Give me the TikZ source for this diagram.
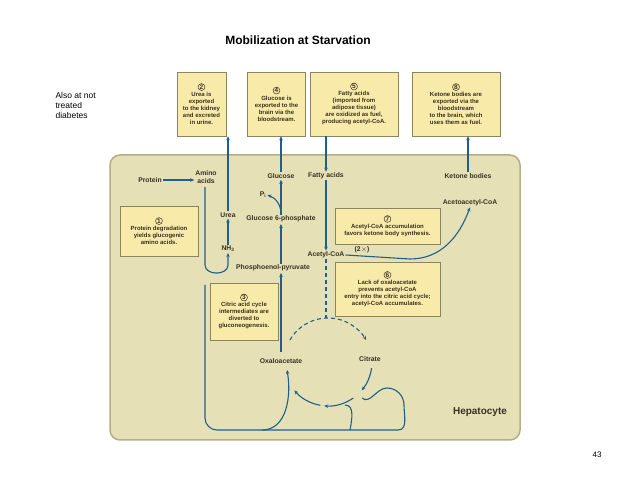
\documentclass[tikz,border=0pt]{standalone}
\usepackage{fontspec}
\setmainfont{Liberation Sans}
\usetikzlibrary{arrows.meta}
\definecolor{flow}{HTML}{1F5F8B}
\definecolor{cellf}{HTML}{E6E0B6}
\definecolor{celld}{HTML}{B5AE85}
\definecolor{boxf}{HTML}{F8EBAA}
\definecolor{boxd}{HTML}{8C8460}
\definecolor{lab}{HTML}{3A3020}
\tikzset{
 lbl/.style={font=\bfseries\fontsize{6.8}{7.6}\selectfont, text=lab, inner sep=1pt, align=center},
 note/.style={draw=boxd, fill=boxf, line width=0.6pt, font=\bfseries\fontsize{6}{7}\selectfont, text=lab, align=center, inner sep=1.5pt},
 fl/.style={draw=flow, line width=1.1pt, -{Stealth[length=4pt,width=3.5pt]}},
 fln/.style={draw=flow, line width=1.1pt},
 num/.style={draw=lab, fill=none, circle, inner sep=0.4pt, line width=0.5pt, minimum width=0pt, minimum height=0pt}
}
\newcommand{\cn}[1]{\tikz[baseline=-2.5pt]\node[num,font=\bfseries\fontsize{6.5}{6.5}\selectfont]{#1};}
\begin{document}
\begin{tikzpicture}[x=1pt,y=-1pt]
\useasboundingbox[fill=white] (0,0) rectangle (638,478);
\node[font=\bfseries\fontsize{12}{14}\selectfont] (title) at (298,40) {Mobilization at Starvation};
\node[font=\fontsize{8.5}{10}\selectfont, align=left, anchor=north west] (also) at (52,89) {Also at not\\treated\\diabetes};
\node[font=\fontsize{8}{10}\selectfont] (pg) at (597,455) {43};
% top boxes
\node[note, minimum width=49pt, minimum height=64pt] (b2) at (201.5,104) {\cn{2}\\Urea is\\exported\\to the kidney\\and excreted\\in urine.};
\node[note, minimum width=58pt, minimum height=64pt] (b4) at (276.5,104) {\cn{4}\\Glucose is\\exported to the\\brain via the\\bloodstream.};
\node[note, minimum width=88pt, minimum height=64pt] (b5) at (354,104) {\cn{5}\\Fatty acids\\(imported from\\adipose tissue)\\are oxidized as fuel,\\producing acetyl-CoA.};
\node[note, minimum width=88pt, minimum height=64pt] (b8) at (456,104) {\cn{8}\\Ketone bodies are\\exported via the\\bloodstream\\to the brain, which\\uses them as fuel.};
% cell
\draw[draw=celld, fill=cellf, line width=1.5pt, rounded corners=10pt] (110,155) rectangle (520,440);
\node[font=\bfseries\fontsize{10}{12}\selectfont, text=lab] (hep) at (480,412) {Hepatocyte};
% boxes inside
\node[note, minimum width=78pt, minimum height=50pt] (b1) at (159,231) {\cn{1}\\Protein degradation\\yields glucogenic\\amino acids.};
\node[note, minimum width=105pt, minimum height=36pt] (b7) at (387.5,226) {\cn{7}\\Acetyl-CoA accumulation\\favors ketone body synthesis.};
\node[note, minimum width=105pt, minimum height=54pt] (b6) at (387.5,289) {\cn{6}\\Lack of oxaloacetate\\prevents acetyl-CoA\\entry into the citric acid cycle;\\acetyl-CoA accumulates.};
\node[note, minimum width=68pt, minimum height=57pt] (b3) at (244,311.5) {\cn{3}\\Citric acid cycle\\intermediates are\\diverted to\\gluconeogenesis.};
% labels
\node[lbl] (prot) at (150,180) {Protein};
\node[lbl] (aa) at (206,177) {Amino\\acids};
\node[lbl] (glc) at (281,176) {Glucose};
\node[lbl] (fa) at (326,176) {Fatty acids};
\node[lbl] (kb) at (468,176) {Ketone bodies};
\node[lbl] (aac) at (470,203) {Acetoacetyl-CoA};
\node[lbl] (pi) at (263,195) {P$_\mathbf{i}$};
\node[lbl] (urea) at (228,215) {Urea};
\node[lbl] (g6p) at (281,219) {Glucose 6-phosphate};
\node[lbl] (nh3) at (228,249) {NH$_\mathbf{3}$};
\node[lbl] (acoa) at (326,255) {Acetyl-CoA};
\node[lbl] (two) at (362,250) {(2$\times$)};
\node[lbl] (pep) at (273,268) {Phosphoenol-pyruvate};
\node[lbl] (oaa) at (281,361) {Oxaloacetate};
\node[lbl] (cit) at (370,359) {Citrate};
\coordinate (cc) at (328,362);
% export arrows
\draw[fl] (urea.north) -- (urea.north |- b2.south);
\draw[fl] (glc.north) -- (glc.north |- b4.south);
\draw[fl] (b5.south -| fa.north) -- (fa.north);
\draw[fl] (kb.north) -- (kb.north |- b8.south);
\draw[fl] (prot.east) -- (aa.west |- prot.east);
\draw[fl] (205,187) -- (205,265) to[out=-90,in=-90,looseness=1.2] (228,265) -- (nh3.south);
\draw[fl] (nh3.north) -- (urea.south);
\draw[fl] (g6p.north) -- (glc.south);
\draw[fl] (281,214) to[out=90,in=-20] (pi.east);
\draw[fl] (pep.north -| 281,0) -- (281,224);
\draw[fl] (281,352) -- (281,273);
\draw[fl] (fa.south) -- (acoa.north);
\draw[fl] (acoa.east) -- (410,259) to[out=0,in=-110] (aac.south);
% cycle
\draw[fln, dashed, dash pattern=on 4pt off 3pt] (acoa.south) -- (326,318);
\draw[fl, dashed, dash pattern=on 4pt off 3pt] (cc) ++(-150:44) arc[start angle=-150, end angle=-30, radius=44];
\draw[fl] (cc) ++(8:44) arc[start angle=8, end angle=40, radius=44];
\draw[fl] (cc) ++(55:44) arc[start angle=55, end angle=95, radius=44];
\draw[fl] (cc) ++(100:44) arc[start angle=100, end angle=140, radius=44];
% outer loop
\draw[fln, rounded corners=12pt] (205,285) -- (205,430) -- (398,430);
\draw[fl] (262,430) to[out=0,in=-80] (287,370);
\draw[fln] (350,430) to[out=80,in=0] (345,405);
\draw[fln] (398,430) to[out=0,in=-90] (404,405) to[out=90,in=0] (387,388) to[out=180,in=-40] (362,398);
\end{tikzpicture}
\end{document}
